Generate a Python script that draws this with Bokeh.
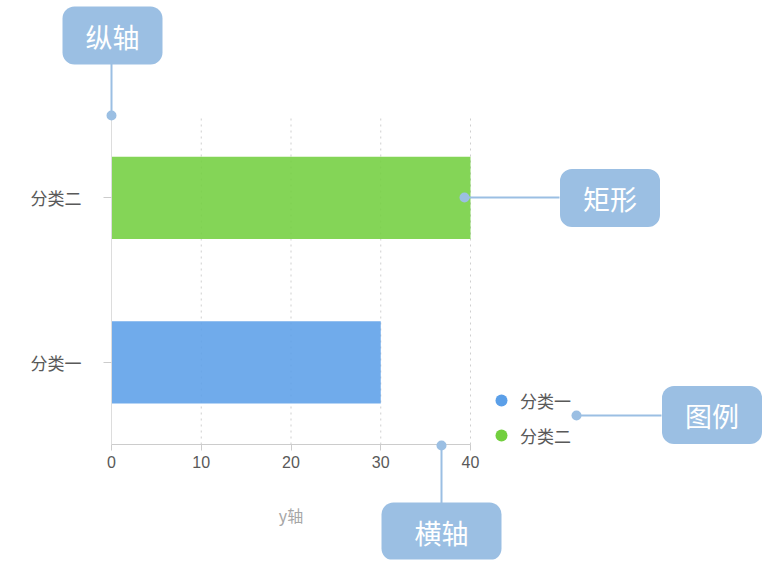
from bokeh.plotting import figure
from bokeh.models import (ColumnDataSource, Range1d, FactorRange, FixedTicker, Legend, LegendItem,
                          Label, Arrow, BoxAnnotation, CDSView, IndexFilter)
from bokeh.embed import file_html
from bokeh.resources import INLINE

# data
categories = ["分类一", "分类二"]
values = [30, 40]
x_ticks = [0, 10, 20, 30, 40]
x_label = "y轴"

# styles / layout
bar_colors = ["#5B9FE8", "#72CF3E"]
callout_color = "#9BBFE3"
font = "Noto Sans CJK SC"
W, H = 767, 568
FRAME_BOTTOM = 559          # canvas bottom border of 9px
PX0, PX40 = 111, 470        # page x of value 0 and 40
PY_TOP, PY_BOT = 115, 444   # page y of category band top / bottom

# the frame covers the whole canvas so the callouts outside the plot area stay visible
n = len(categories)
k = (PX40 - PX0) / 40.0
x_range = Range1d(-PX0 / k, (W - PX0) / k)
band = (PY_BOT - PY_TOP) / n
y_range = FactorRange(factors=categories, range_padding=2 * (PY_TOP / band) / n)

p = figure(width=W, height=H, x_range=x_range, y_range=y_range,
           output_backend="svg", toolbar_location=None,
           min_border=0, min_border_left=0, min_border_right=0, min_border_top=0,
           min_border_bottom=H - FRAME_BOTTOM)
p.outline_line_color = None
p.grid.visible = False

# dashed grid lines over the band area
gsrc = ColumnDataSource(data={'x': x_ticks, 'y0': [0] * len(x_ticks), 'y1': [n] * len(x_ticks)})
p.segment(x0='x', x1='x', y0='y0', y1='y1', line_color="#cfcfcf", line_dash="2 4",
          line_width=1, level="underlay", source=gsrc)

source = ColumnDataSource(data={'cat': categories, 'val': values, 'color': bar_colors})
p.hbar(y='cat', left=0, right='val', height=0.5, fill_color='color', fill_alpha=0.87,
       line_color=None, source=source)

# x axis
p.xaxis.fixed_location = 0
p.xaxis.bounds = (0, 40)
p.xaxis.ticker = FixedTicker(ticks=x_ticks)
p.xaxis.axis_line_color = "#cccccc"
p.xaxis.major_tick_line_color = "#cccccc"
p.xaxis.major_tick_in = 0
p.xaxis.major_tick_out = 6
p.xaxis.minor_tick_line_color = None
p.xaxis.major_label_text_font = "Liberation Sans"
p.xaxis.major_label_text_font_size = "16px"
p.xaxis.major_label_text_color = "#595959"
p.xaxis.axis_label = x_label
p.xaxis.axis_label_text_font = font
p.xaxis.axis_label_text_font_size = "16px"
p.xaxis.axis_label_text_font_style = "normal"
p.xaxis.axis_label_text_color = "#a6a6a6"
p.xaxis.axis_label_standoff = 32

# y axis
p.yaxis.fixed_location = 0
p.yaxis.bounds = (0, n)
p.yaxis.axis_line_color = "#dddddd"
p.yaxis.major_tick_line_color = "#cccccc"
p.yaxis.major_tick_in = 0
p.yaxis.major_tick_out = 8
p.yaxis.major_label_standoff = 22
p.yaxis.major_label_text_font = font
p.yaxis.major_label_text_font_size = "17px"
p.yaxis.major_label_text_color = "#595959"

# legend with round markers (size 0 so they draw nothing in the plot itself)
items = []
for i, (cat, col) in enumerate(zip(categories, bar_colors)):
    r = p.scatter(x='val', y='cat', marker="circle", size=0, fill_color=col, line_color=None,
                  source=source, view=CDSView(filter=IndexFilter(indices=[i])))
    items.append(LegendItem(label=cat, renderers=[r]))
legend = Legend(items=items, location=(486, FRAME_BOTTOM - 450), padding=0, margin=0, spacing=5,
                glyph_width=30, glyph_height=30, label_height=30, label_standoff=4,
                border_line_color=None, background_fill_alpha=0,
                label_text_font=font, label_text_font_size="17px", label_text_color="#595959")
p.add_layout(legend, "center")

# callouts in page pixels: (text, box center, box width, dot, line end)
callouts = [
    ("纵轴", (112, 35), 100, (111, 115), (111, 62)),
    ("矩形", (609.5, 197.5), 101, (464, 197), (559, 197)),
    ("图例", (711.5, 414.5), 101, (576, 415), (661, 415)),
    ("横轴", (441, 531), 120, (441, 445), (441, 504)),
]
for text, (cx, cy), bw, (dx, dy), (ex, ey) in callouts:
    p.add_layout(Arrow(end=None, x_start=dx, y_start=FRAME_BOTTOM - dy, x_end=ex, y_end=FRAME_BOTTOM - ey,
                       start_units="screen", end_units="screen",
                       line_color=callout_color, line_width=2))
    p.add_layout(BoxAnnotation(left=dx - 5, right=dx + 5,
                               bottom=FRAME_BOTTOM - dy - 5, top=FRAME_BOTTOM - dy + 5,
                               left_units="screen", right_units="screen",
                               bottom_units="screen", top_units="screen",
                               fill_color=callout_color, fill_alpha=1, line_color=None,
                               border_radius=5))
    ph = (bw - 54) // 2
    p.add_layout(Label(x=cx, y=FRAME_BOTTOM - cy, x_units="screen", y_units="screen", text=text,
                       text_color="white", text_font=font, text_font_size="27px",
                       text_align="center", text_baseline="middle",
                       background_fill_color=callout_color, border_radius=12,
                       padding=dict(left=ph, right=ph, top=10, bottom=9)))

open("out.html", "w").write(file_html(p, INLINE))
